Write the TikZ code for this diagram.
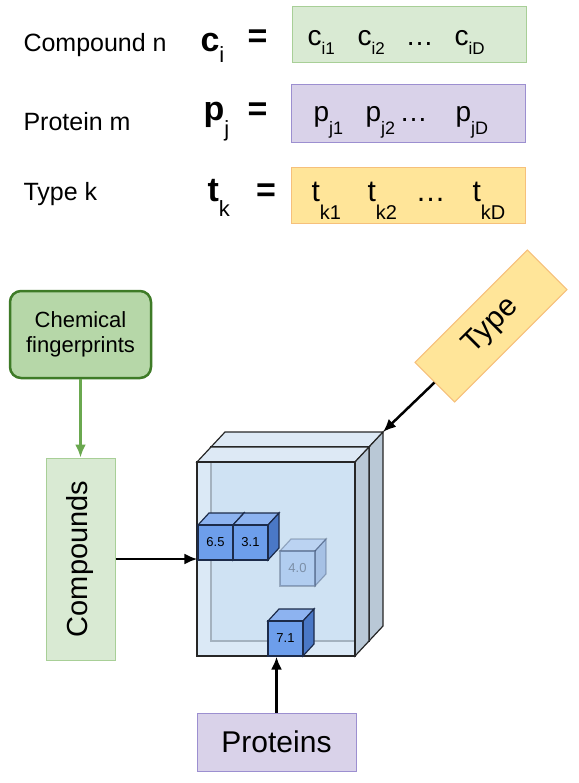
\documentclass[tikz,border=0pt]{standalone}
\usepackage{fontspec}
\setmainfont{Liberation Sans}
\usetikzlibrary{arrows.meta,positioning}

\definecolor{cgreen}{HTML}{D9EAD3}
\definecolor{cgreenb}{HTML}{A8CF97}
\definecolor{fgreen}{HTML}{B6D7A8}
\definecolor{fgreenb}{HTML}{3E7B27}
\definecolor{agreen}{HTML}{6AA84F}
\definecolor{ppurple}{HTML}{D9D2E9}
\definecolor{ppurpleb}{HTML}{9C8FD0}
\definecolor{torange}{HTML}{FFE599}
\definecolor{torangeb}{HTML}{F6C07B}
\definecolor{slabfront}{HTML}{CFE2F3}
\definecolor{slabtop}{HTML}{DDE9F5}
\definecolor{slabside}{HTML}{B9C8D6}
\definecolor{cellfront}{HTML}{6D9EEB}
\definecolor{celltop}{HTML}{8DB3F0}
\definecolor{cellside}{HTML}{4A78C6}
\definecolor{celledge}{HTML}{1C2B4A}

% lowered subscript: drop, size, text
\newcommand{\vsub}[3]{\raisebox{-#1pt}{\normalfont\fontsize{#2}{#2}\selectfont #3}}

\begin{document}
\begin{tikzpicture}
[x=1pt, y=-1pt, line width=1pt, >={Latex[length=13pt,width=11pt]},
lbl/.style={inner sep=0pt, anchor=base west, font=\fontsize{25}{30}\selectfont},
vec/.style={inner sep=0pt, font=\fontsize{34}{40}\selectfont\bfseries},
ent/.style={inner sep=0pt, anchor=base west, font=\fontsize{28}{32}\selectfont},
vbox/.style={rectangle, draw, inner sep=0pt, minimum width=234pt, minimum height=56pt},
chem/.style={rectangle, rounded corners=11pt, draw=fgreenb, fill=fgreen, line width=2.5pt,
  inner sep=0pt, minimum width=141pt, minimum height=87pt, align=center,
  font=\fontsize{22}{25}\selectfont},
inbox/.style={rectangle, draw, inner sep=0pt, font=\fontsize{30}{34}\selectfont},
cell/.style={rectangle, draw=celledge, fill=cellfront, inner sep=0pt, minimum size=35pt,
  font=\fontsize{13}{15}\selectfont},
slab/.style={draw=black!85, line width=1.2pt},
arr/.style={->, line width=2.5pt, black}]

\useasboundingbox (0,0) rectangle (578,783);

%% vectors
\node[lbl] (cmpn) at (23,52) {Compound n};
\node[lbl] (prtm) at (23,131) {Protein m};
\node[lbl] (typk) at (23,201) {Type k};

\node[vec, anchor=base west] (ci) at (200,52) {c\vsub{11}{22}{i}};
\node[vec, anchor=base west] (pj) at (203,121) {p\vsub{16}{22}{j}};
\node[vec, anchor=base west] (tk) at (207,202) {t\vsub{15}{22}{k}};

\node[vec, anchor=base] (eq1) at (257.5,48) {=};
\node[vec, anchor=base] (eq2) at (257.5,121) {=};
\node[vec, anchor=base] (eq3) at (266,202) {=};

\node[vbox, draw=cgreenb, fill=cgreen] (cbox) at (409.5,35) {};
\node[vbox, draw=ppurpleb, fill=ppurple, minimum height=58pt] (pbox) at (408,114) {};
\node[vbox, draw=torangeb, fill=torange] (tbox) at (408,196) {};

\foreach \x/\s in {307/i1, 357/i2, 454/iD} {
  \node[ent] (c\s) at (\x,46) {c\vsub{9}{17}{\s}};
}
\node[ent] (cdots) at (405,46) {\ldots};

\foreach \x/\s in {313/j1, 365/j2, 455/jD} {
  \node[ent] (p\s) at (\x,122) {p\vsub{13}{18}{\s}};
}
\node[ent] (pdots) at (399,122) {\ldots};

\foreach \x/\s in {311/k1, 367/k2, 472/kD} {
  \node[ent, font=\fontsize{30}{34}\selectfont] (t\s) at (\x,202) {t\vsub{18}{20}{\s}};
}
\node[ent, font=\fontsize{30}{34}\selectfont] (tdots) at (415,202) {\ldots};

%% tensor
% back slab
\filldraw[slab, fill=slabtop] (211,447) -- (369,447) -- (383,432) -- (225,432) -- cycle;
\filldraw[slab, fill=slabside] (369,447) -- (383,432) -- (383,626) -- (369,641) -- cycle;
\filldraw[slab, fill=slabfront] (211,447) rectangle (369,641);
% front slab
\filldraw[slab, fill=slabtop] (197,462) -- (355,462) -- (369,447) -- (211,447) -- cycle;
\filldraw[slab, fill=slabside] (355,462) -- (369,447) -- (369,641) -- (355,656) -- cycle;
\filldraw[slab, fill=slabfront, fill opacity=0.75] (197,462) rectangle (355,656);
\coordinate (bk) at (383,432);

\foreach \n/\x/\y/\v/\o in {A/198/525/6.5/1, B/233/525/3.1/1, C/280/551/4.0/0.3, D/268/621/7.1/1} {
  \filldraw[draw=celledge, line width=1.2pt, fill=celltop, opacity=\o] (\x,\y) -- ++(11,-12) -- ++(35,0) -- ++(-11,12) -- cycle;
  \filldraw[draw=celledge, line width=1.2pt, fill=cellside, opacity=\o] (\x+35,\y) -- ++(11,-12) -- ++(0,35) -- ++(-11,12) -- cycle;
  \node[cell, line width=1.2pt, opacity=\o] (cube\n) at (\x+17.5,\y+17.5) {\v};
}

%% inputs
\node[chem] (chem) at (80.5,334.5) {Chemical\\fingerprints};
\node[inbox, draw=cgreenb, fill=cgreen, rotate=90, minimum width=202pt, minimum height=69pt,
  font=\fontsize{29}{34}\selectfont] (compounds) at (80.5,559) {Compounds};
\node[inbox, draw=ppurpleb, fill=ppurple, minimum width=159pt, minimum height=58pt] (proteins) at (276.5,742) {Proteins};
\node[inbox, draw=torangeb, fill=torange, rotate=45, minimum width=159pt, minimum height=56pt] (type) at (491,326) {Type};

\draw[->, line width=2.5pt, agreen] (chem) -- (compounds);
\draw[arr] (compounds.south) -- (compounds.south -| cubeA.west);
\draw[arr] (proteins.north) -- (proteins.north |- cubeD.south);
\draw[arr] (type.west) -- (bk);
\end{tikzpicture}
\end{document}
